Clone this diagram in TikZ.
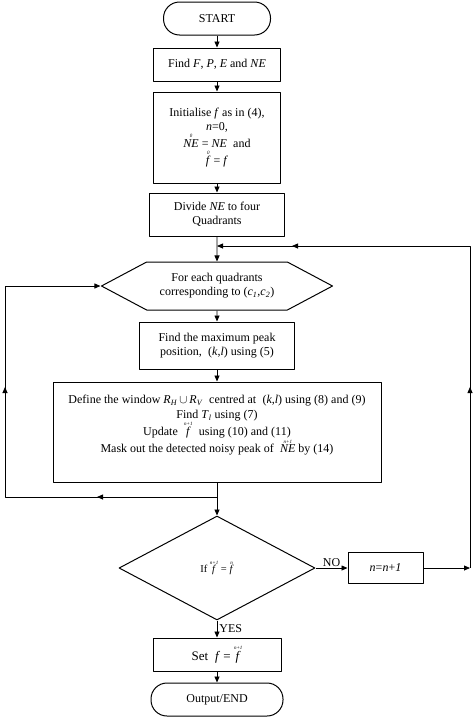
\documentclass[tikz,border=0pt]{standalone}
\usepackage{fontspec}
\setmainfont{Liberation Serif}
\usetikzlibrary{arrows.meta,shapes.geometric,shapes.symbols,decorations.markings}
\newcommand{\ovr}[2]{\shortstack{\fontsize{5}{5}\selectfont\textit{#1}\\[-1.5pt]\textit{#2}}}
\newcommand{\isub}[2]{\textit{#1}\textsubscript{\textit{#2}}}
\begin{document}
\begin{tikzpicture}[x=1pt,y=-1pt,font=\fontsize{12}{14}\selectfont,line join=round,
 >={Triangle[length=6pt,width=5pt]},
 box/.style={draw,line width=1pt,align=center,inner sep=2pt},
 term/.style={box,rounded corners=16pt},
 link/.style={line width=0.8pt},
 tipsat/.style 2 args={postaction={decorate},decoration={markings,
  mark=at position #1 with {\arrow{>}},mark=at position #2 with {\arrow{>}}}}]
 \useasboundingbox (0,0) rectangle (474,718);
 \node[term,minimum width=107pt,minimum height=33pt] (start) at (217,18.5) {START};
 \node[box,minimum width=127pt,minimum height=33pt] (find) at (217,64.5) {Find \textit{F}, \textit{P}, \textit{E} and \textit{NE}};
 \node[box,minimum width=127pt,minimum height=91pt] (init) at (217,137.5)
  {Initialise \textit{f} as in (4),\\ \textit{n}=0,\\[1pt] \ovr{0}{NE} = \textit{NE}\; and\\[3pt] \ovr{0}{f} = \textit{f}};
 \node[box,minimum width=135pt,minimum height=43pt] (div) at (217,214.5) {Divide \textit{NE} to four\\Quadrants};
 \node[draw,line width=1pt,signal,signal to=west and east,signal pointer angle=56,
  minimum width=231pt,minimum height=48pt,align=center,inner sep=2pt] (quad) at (217,286)
  {For each quadrants\\corresponding to (\isub{c}{1},\isub{c}{2})};
 \node[box,minimum width=155pt,minimum height=47pt] (peak) at (217,345.5)
  {Find the maximum peak\\position,\; (\textit{k},\textit{l}) using (5)};
 \node[box,minimum width=328pt,minimum height=100pt] (upd) at (217,432)
  {Define the window \isub{R}{H}\,$\cup$\,\isub{R}{V}\; centred at\; (\textit{k},\textit{l}) using (8) and (9)\\[1pt]
   Find \isub{T}{l} using (7)\\
   Update\; \ovr{n+1}{f}\; using (10) and (11)\\[1pt]
   Mask out the detected noisy peak of\; \ovr{n+1}{NE} by (14)\rule[-16pt]{0pt}{0pt}};
 \coordinate (join) at (217,497);
 \node[draw,line width=1pt,diamond,aspect=1.88,minimum width=196pt,minimum height=104pt,inner sep=0pt,
  font=\fontsize{10.5}{12}\selectfont] (test) at (217,568) {If \ovr{n+1}{f} = \ovr{n}{f}};
 \node[box,minimum width=75pt,minimum height=31pt] (incr) at (385.5,568) {\textit{n}=\textit{n}+\textit{1}};
 \node[box,minimum width=128pt,minimum height=33pt,font=\fontsize{13}{15}\selectfont] (set) at (217,654.5) {Set\; \textit{f} = \ovr{n+1}{f}};
 \node[term,minimum width=132pt,minimum height=33pt] (stop) at (217,699.5) {Output/END};
 \coordinate (lb) at (5,497);
 \coordinate (lt) at (5,286);
 \coordinate (rb) at (470,568);
 \coordinate (rt) at (470,246);
 \coordinate (back) at (217,246);
 % main flow
 \draw[link,->] (start) -- (find);
 \draw[link,->] (find) -- (init);
 \draw[link,->] (init) -- (div);
 \draw[link,->] (div) -- (quad);
 \draw[link,->] (quad) -- (peak);
 \draw[link,->] (peak) -- (upd);
 \draw[link,->] (upd) -- (test);
 \draw[link,->] (test) -- node[right,inner sep=2pt]{YES} (set);
 \draw[link,->] (set) -- (stop);
 \draw[link,->] (test) -- node[above,inner sep=1pt]{NO} (incr);
 % loops
 \draw[link,->,tipsat={120pt}{322pt}] (join) -- (lb) -- (lt) -- (quad.west);
 \draw[link,->] (incr) -- (rb);
 \draw[link,->,tipsat={181pt}{500pt}] (rb) -- (rt) -- (back);
\end{tikzpicture}
\end{document}
